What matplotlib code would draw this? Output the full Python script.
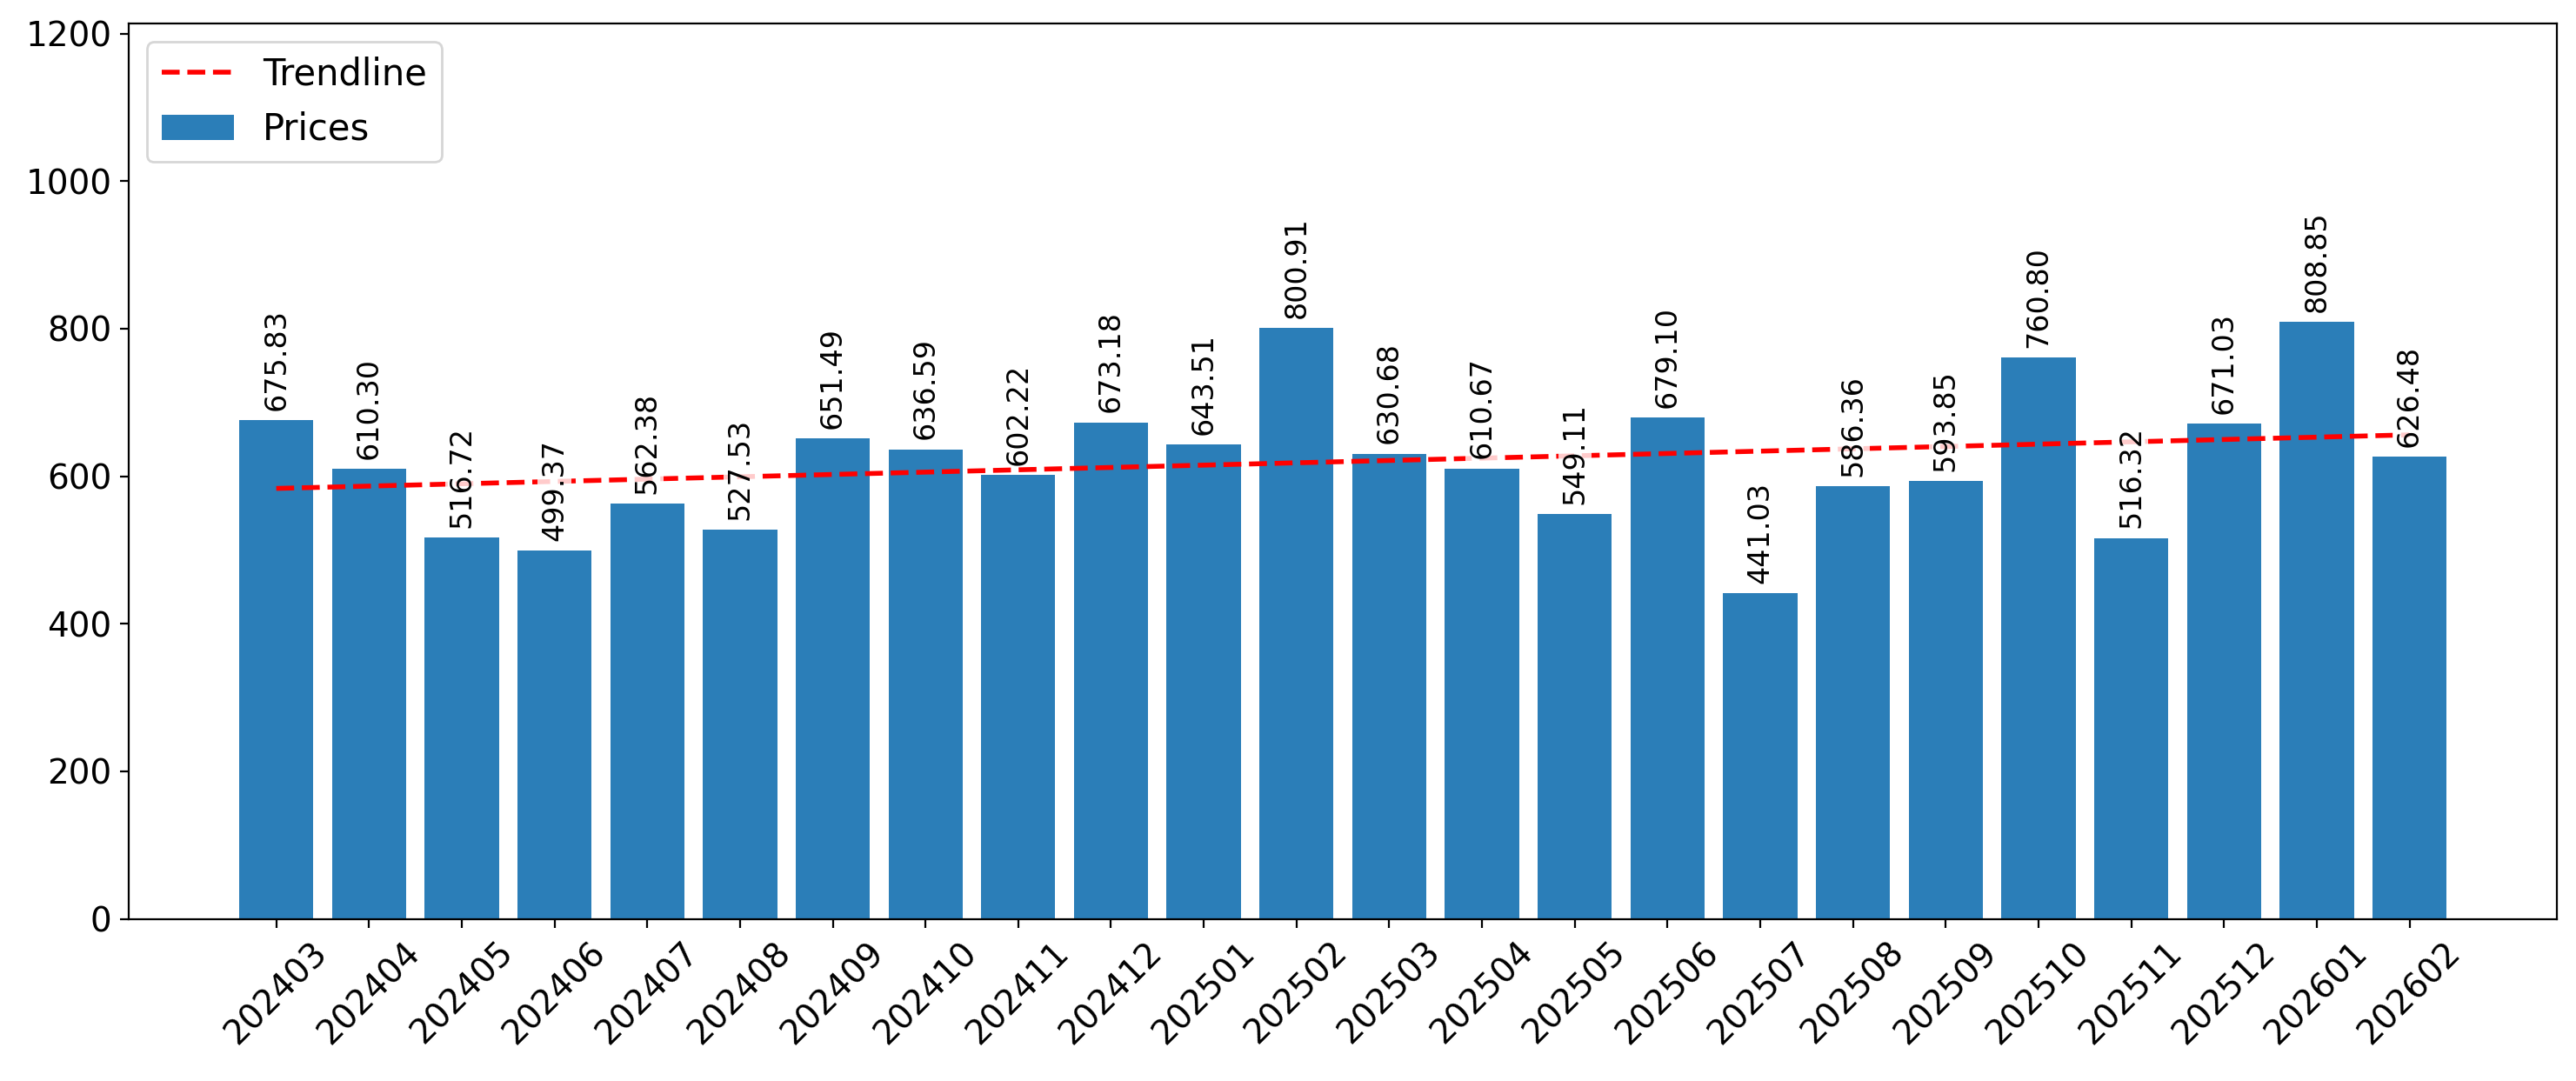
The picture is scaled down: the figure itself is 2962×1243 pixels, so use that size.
import matplotlib
matplotlib.use("Agg")
import matplotlib.pyplot as plt
import numpy as np

months = ['202403', '202404', '202405', '202406', '202407', '202408', '202409', '202410',
          '202411', '202412', '202501', '202502', '202503', '202504', '202505', '202506',
          '202507', '202508', '202509', '202510', '202511', '202512', '202601', '202602']
prices = [675.83, 610.30, 516.72, 499.37, 562.38, 527.53, 651.49, 636.59,
          602.22, 673.18, 643.51, 800.91, 630.68, 610.67, 549.11, 679.10,
          441.03, 586.36, 593.85, 760.80, 516.32, 671.03, 808.85, 626.48]

x = np.arange(len(months))
# linear trend fitted on the prices
coef = np.polyfit(x, prices, 1)
trend = np.polyval(coef, x)

fig, ax = plt.subplots(figsize=(14.81, 6.215), dpi=200)
fig.subplots_adjust(left=0.05, right=0.9926, top=0.978, bottom=0.15)

ax.bar(x, prices, width=0.8, color='#1f77b4', alpha=0.95, label='Prices')
ax.plot(x, trend, color='red', linestyle='--', linewidth=2, label='Trendline')

for xi, p in zip(x, prices):
    ax.annotate(f'{p:.2f}', (xi, p), xytext=(0, 4), textcoords='offset points',
                ha='center', va='bottom', rotation=90, fontsize=12,
                bbox=dict(facecolor='white', edgecolor='none', alpha=0.8, pad=1))

ax.set_ylim(0, max(prices) * 1.5)
ax.set_xticks(x)
ax.set_xticklabels(months, rotation=45, fontsize=14)
ax.tick_params(axis='y', labelsize=14)
ax.legend(loc='upper left', fontsize=15)

fig.savefig('out.png', dpi=200)
